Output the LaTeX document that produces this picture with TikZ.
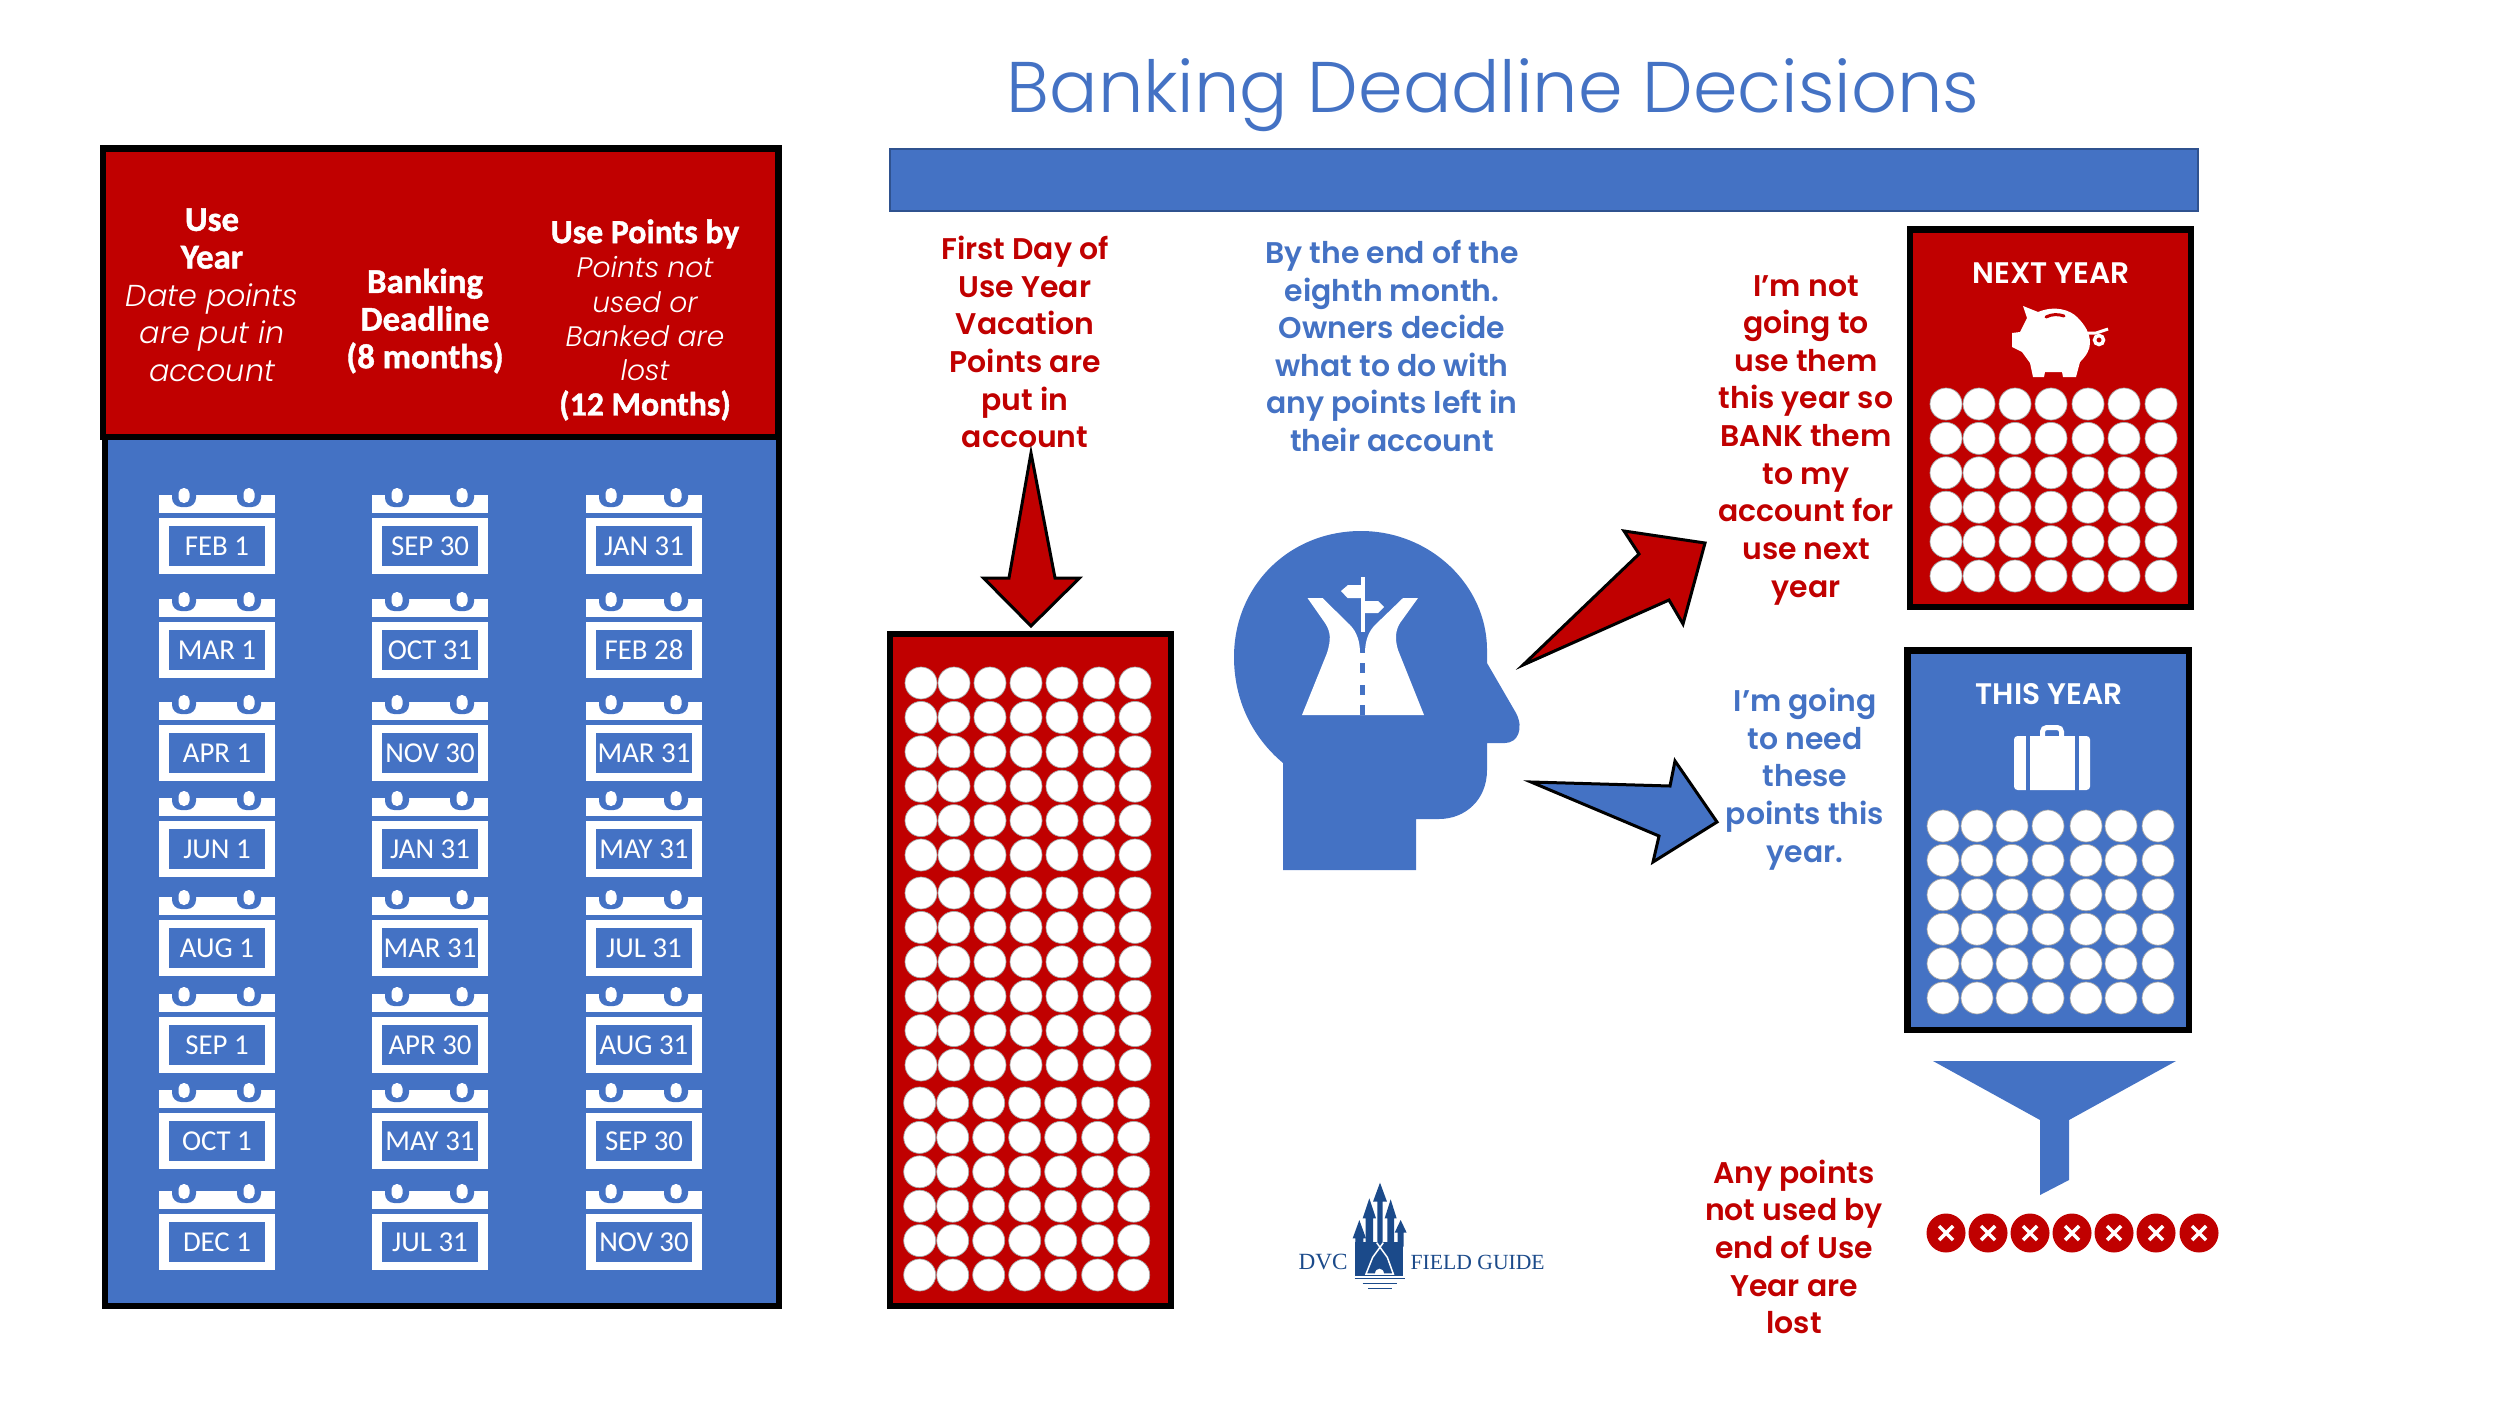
\documentclass[tikz,border=0pt]{standalone}
\usepackage{fontspec}
\setmainfont{Poppins}
\newfontfamily\lightfont{Poppins Light}[ItalicFont={Poppins Light Italic}]
\newfontfamily\semifont{Poppins SemiBold}
\newfontfamily\calfont{Carlito}
\newfontfamily\headfont{Carlito Bold}[FakeBold=1.2]
\newfontfamily\logofont{Liberation Serif}
\definecolor{fieldblue}{HTML}{4472C4}
\definecolor{barblue}{HTML}{2F528F}
\definecolor{fieldred}{HTML}{C00000}
\definecolor{logoblue}{HTML}{1B4A8A}
\tikzset{
	frame/.style={draw=black,line width=0.065cm},
	bigarrow/.style={draw=black,line width=0.03cm,line join=miter},
	point/.style={fill=white,draw=gray!70,line width=0.2pt},
	note/.style={align=center,inner sep=0pt,font=\semifont\fontsize{8.5}{10.7}\selectfont},
	headbold/.style={align=center,inner sep=0pt,text=white,font=\headfont\fontsize{9.9}{10.7}\selectfont},
	panelhead/.style={inner sep=0pt,text=white,font=\semifont\fontsize{8.45}{10}\selectfont},
	datelabel/.style={inner sep=0pt,text=white,font=\calfont\fontsize{8.2}{10}\selectfont},
}
\newcommand{\slant}[2]{{\lightfont\itshape\fontsize{#1}{10}\selectfont #2}}
\newcommand{\calicon}[4]{
	\begin{scope}[shift={(#2,#3)}]
		\fill[white] (-58,-51) rectangle (58,-33);
		\fill[white] (-58,-28) rectangle (58,28);
		\fill[fieldblue] (-48,-20) rectangle (48,20);
		\foreach \pegx in {-33,32}{
			\fill[fieldblue] (\pegx-12,-53) [rounded corners=2.6pt] -- (\pegx-12,-39) -- (\pegx+12,-39) [sharp corners] -- (\pegx+12,-53) -- cycle;
			\fill[white,rounded corners=1.5pt] (\pegx-5.5,-58) rectangle (\pegx+5.5,-43);
		}
		\node[datelabel] (#1) at (0,0) {#4};
	\end{scope}
}
\newcommand{\pointgrid}[3]{
	\foreach \px in {#1}
		\foreach \k in {0,...,5}
			\path[point] (\px+#3,#2+\k*34.4) circle (16);
}
\newcommand{\spire}[5]{
	\fill[logoblue] (#1,#2) -- (#1+#4,#3) -- (#1+#5,#3) -- (#1+#5,230) -- (#1-#5,230) -- (#1-#5,#3) -- (#1-#4,#3) -- cycle;
}
\begin{document}
\begin{tikzpicture}[x=0.01cm,y=-0.01cm]
	\useasboundingbox (0,0) rectangle (2500,1406);
	\node[text=fieldblue,inner sep=0pt,font=\lightfont\fontsize{20.4}{24}\selectfont] (title) at (1493,95) {Banking Deadline Decisions};
	\draw[fill=fieldblue,draw=barblue,line width=0.02cm] (890,149) rectangle (2198,211);

	\draw[frame,fill=fieldblue] (105,437) rectangle (779,1306);
	\draw[frame,fill=fieldred] (103,148.5) rectangle (778.5,437);
	\node[headbold] (useyear) at (212,295) {Use\\Year\\\slant{8.6}{Date points}\\\slant{8.6}{are put in}\\\slant{8.6}{account}};
	\node[headbold] (deadline) at (425,321) {Banking\\Deadline\\(8 months)};
	\node[headbold,font=\headfont\fontsize{9.6}{9.8}\selectfont] (usepoints) at (645,320) {Use Points by\\\slant{8}{Points not}\\\slant{8}{used or}\\\slant{8}{Banked are}\\\slant{8}{lost}\\(12 Months)};

	\foreach \rowy/\first/\second/\third [count=\i] in {
		546/FEB 1/SEP 30/JAN 31,
		650/MAR 1/OCT 31/FEB 28,
		753/APR 1/NOV 30/MAR 31,
		849/JUN 1/JAN 31/MAY 31,
		948/AUG 1/MAR 31/JUL 31,
		1045/SEP 1/APR 30/AUG 31,
		1141/OCT 1/MAY 31/SEP 30,
		1242/DEC 1/JUL 31/NOV 30}{
		\calicon{use-\i}{217}{\rowy}{\first}
		\calicon{bank-\i}{430}{\rowy}{\second}
		\calicon{lost-\i}{644}{\rowy}{\third}
	}

	\node[note,text=fieldred] (firstday) at (1025,342) {First Day of\\Use Year\\Vacation\\Points are\\put in\\account};
	\path[bigarrow,fill=fieldred] (1031,453) -- (1055,578) -- (1079.5,578) -- (1031,626) -- (983.5,578) -- (1009,578) -- cycle;
	\draw[frame,fill=fieldred] (890,634) rectangle (1171,1306);
	\pointgrid{921,954,990,1026,1062,1099,1135}{683}{0}
	\pointgrid{921,954,990,1026,1062,1099,1135}{893}{0}
	\pointgrid{921,954,990,1026,1062,1099,1135}{1103}{-1.3}

	\node[note,text=fieldblue] (endmonth) at (1392,346) {By the end of the\\eighth month.\\Owners decide\\what to do with\\any points left in\\their account};
	\fill[fieldblue] (1283,870) -- (1283,763) .. controls (1252,737) and (1234,700) .. (1234,657) .. controls (1234,585) and (1290,531) .. (1361,531) .. controls (1430,531) and (1487,585) .. (1487,650) -- (1487,663) -- (1516,713) .. controls (1524,728) and (1518,743) .. (1505,743) -- (1487,743) -- (1487,770) .. controls (1487,800) and (1465,819) .. (1439,819) -- (1416,819) -- (1416,870) -- cycle;
	\fill[white] (1302,715) -- (1327,653) .. controls (1331,640) and (1331,632) .. (1325,623) -- (1307.5,598) -- (1322.5,598) -- (1350,625) .. controls (1357,632) and (1360,642) .. (1360,653) -- (1365,653) .. controls (1365,642) and (1368,632) .. (1375,625) -- (1403,598) -- (1418,598) -- (1400,623) .. controls (1395,631) and (1395,640) .. (1398,650) -- (1424,715) -- cycle;
	\foreach \dashy in {663,685,705}
		\fill[fieldblue] (1360,\dashy) rectangle (1365,\dashy+10);
	\fill[white] (1361,577) rectangle (1365,632);
	\fill[white] (1361,585) -- (1348,585) -- (1341,591) -- (1347.5,598) -- (1361,598) -- cycle;
	\fill[white] (1365,601) -- (1378,601) -- (1384,607) -- (1378,613) -- (1365,613) -- cycle;

	\path[bigarrow,fill=fieldred] (1523,665) -- (1639,554) -- (1624,531) -- (1705,543) -- (1683,624) -- (1669,600) -- cycle;
	\path[bigarrow,fill=fieldblue] (1531,782) -- (1670,786) -- (1675,761) -- (1717,822) -- (1653,862) -- (1659,836) -- cycle;

	\node[note,text=fieldred] (banknote) at (1806,440) {I’m not\\going to\\use them\\this year so\\BANK them\\to my\\account for\\use next\\year};
	\node[note,text=fieldblue] (neednote) at (1805,779) {I’m going\\to need\\these\\points this\\year.};
	\node[note,text=fieldred] (lostnote) at (1794,1247) {Any points\\not used by\\end of Use\\Year are\\lost};

	\draw[frame,fill=fieldred] (1910,229.5) rectangle (2191,607);
	\node[panelhead] (nextyear) at (2051,273) {NEXT YEAR};
	\fill[white] (2023,306) -- (2038,312) .. controls (2055,305) and (2070,310) .. (2077,317) .. controls (2085,325) and (2090,333) .. (2090,343) .. controls (2090,350) and (2086,356) .. (2080,362) -- (2076,377) -- (2063,377) -- (2062,372) -- (2045,372) -- (2044,377) -- (2033,377) -- (2030,363) -- (2022,352) -- (2012,347) -- (2012,333) -- (2020,332) -- (2027,318) -- cycle;
	\draw[fieldred,line width=0.03cm,line cap=round] (2046,317) .. controls (2052,314) and (2058,314) .. (2064,316);
	\draw[white,line width=0.03cm] (2088,333) -- (2096,333) -- (2108,329);
	\draw[white,line width=0.035cm] (2099,340) circle (4.5);
	\pointgrid{1946,1979,2015,2051,2088,2124,2161}{404}{0}

	\draw[frame,fill=fieldblue] (1907.5,650.5) rectangle (2189,1030);
	\node[panelhead] (thisyear) at (2049,694) {THIS YEAR};
	\fill[white,rounded corners=1pt] (2014,736) rectangle (2090,790);
	\draw[white,line width=0.05cm,rounded corners=1.2pt] (2042.5,738) -- (2042.5,727.5) -- (2061.5,727.5) -- (2061.5,738);
	\fill[fieldblue] (2026,734) rectangle (2029.5,792);
	\fill[fieldblue] (2075,734) rectangle (2078.5,792);
	\pointgrid{1943,1977,2012,2048,2086,2121,2158}{826}{0}

	\fill[fieldblue] (1933,1061) -- (2176,1061) -- (2069,1120) -- (2069,1180) -- (2040,1195) -- (2040,1120) -- cycle;
	\foreach \lostx in {1946,1988,2030,2072,2114,2156,2199}{
		\fill[fieldred] (\lostx,1233) circle (19.5);
		\draw[white,line width=0.035cm] (\lostx-7,1226) -- (\lostx+7,1240) (\lostx-7,1240) -- (\lostx+7,1226);
	}

	\begin{scope}[shift={(1280,1170)},scale=0.3333]
		\spire{238}{150}{205}{20}{12}
		\spire{268}{85}{145}{20}{11}
		\spire{300}{38}{95}{21}{8}
		\spire{332}{88}{145}{18}{10}
		\spire{362}{150}{188}{18}{9}
		\fill[logoblue] (226,215) rectangle (370,318);
		\draw[white,line width=0.015cm] (290,218) -- (322,262) -- (340,312) -- (258,312) -- (278,262) -- (310,218);
		\fill[white] (284,312) .. controls (284,292) and (312,292) .. (312,312) -- cycle;
		\draw[logoblue,line width=0.012cm] (224,325) -- (375,325) (248,340) -- (352,340) (265,355) -- (335,355);
	\end{scope}
	\node[inner sep=0pt,anchor=base west,text=logoblue,font=\logofont\fontsize{6.6}{8}\selectfont] (logodvc) at (1298,1269) {DVC};
	\node[inner sep=0pt,anchor=base west,text=logoblue,font=\logofont\fontsize{6.15}{8}\selectfont] (logofield) at (1410,1269) {FIELD GUIDE};
\end{tikzpicture}
\end{document}
